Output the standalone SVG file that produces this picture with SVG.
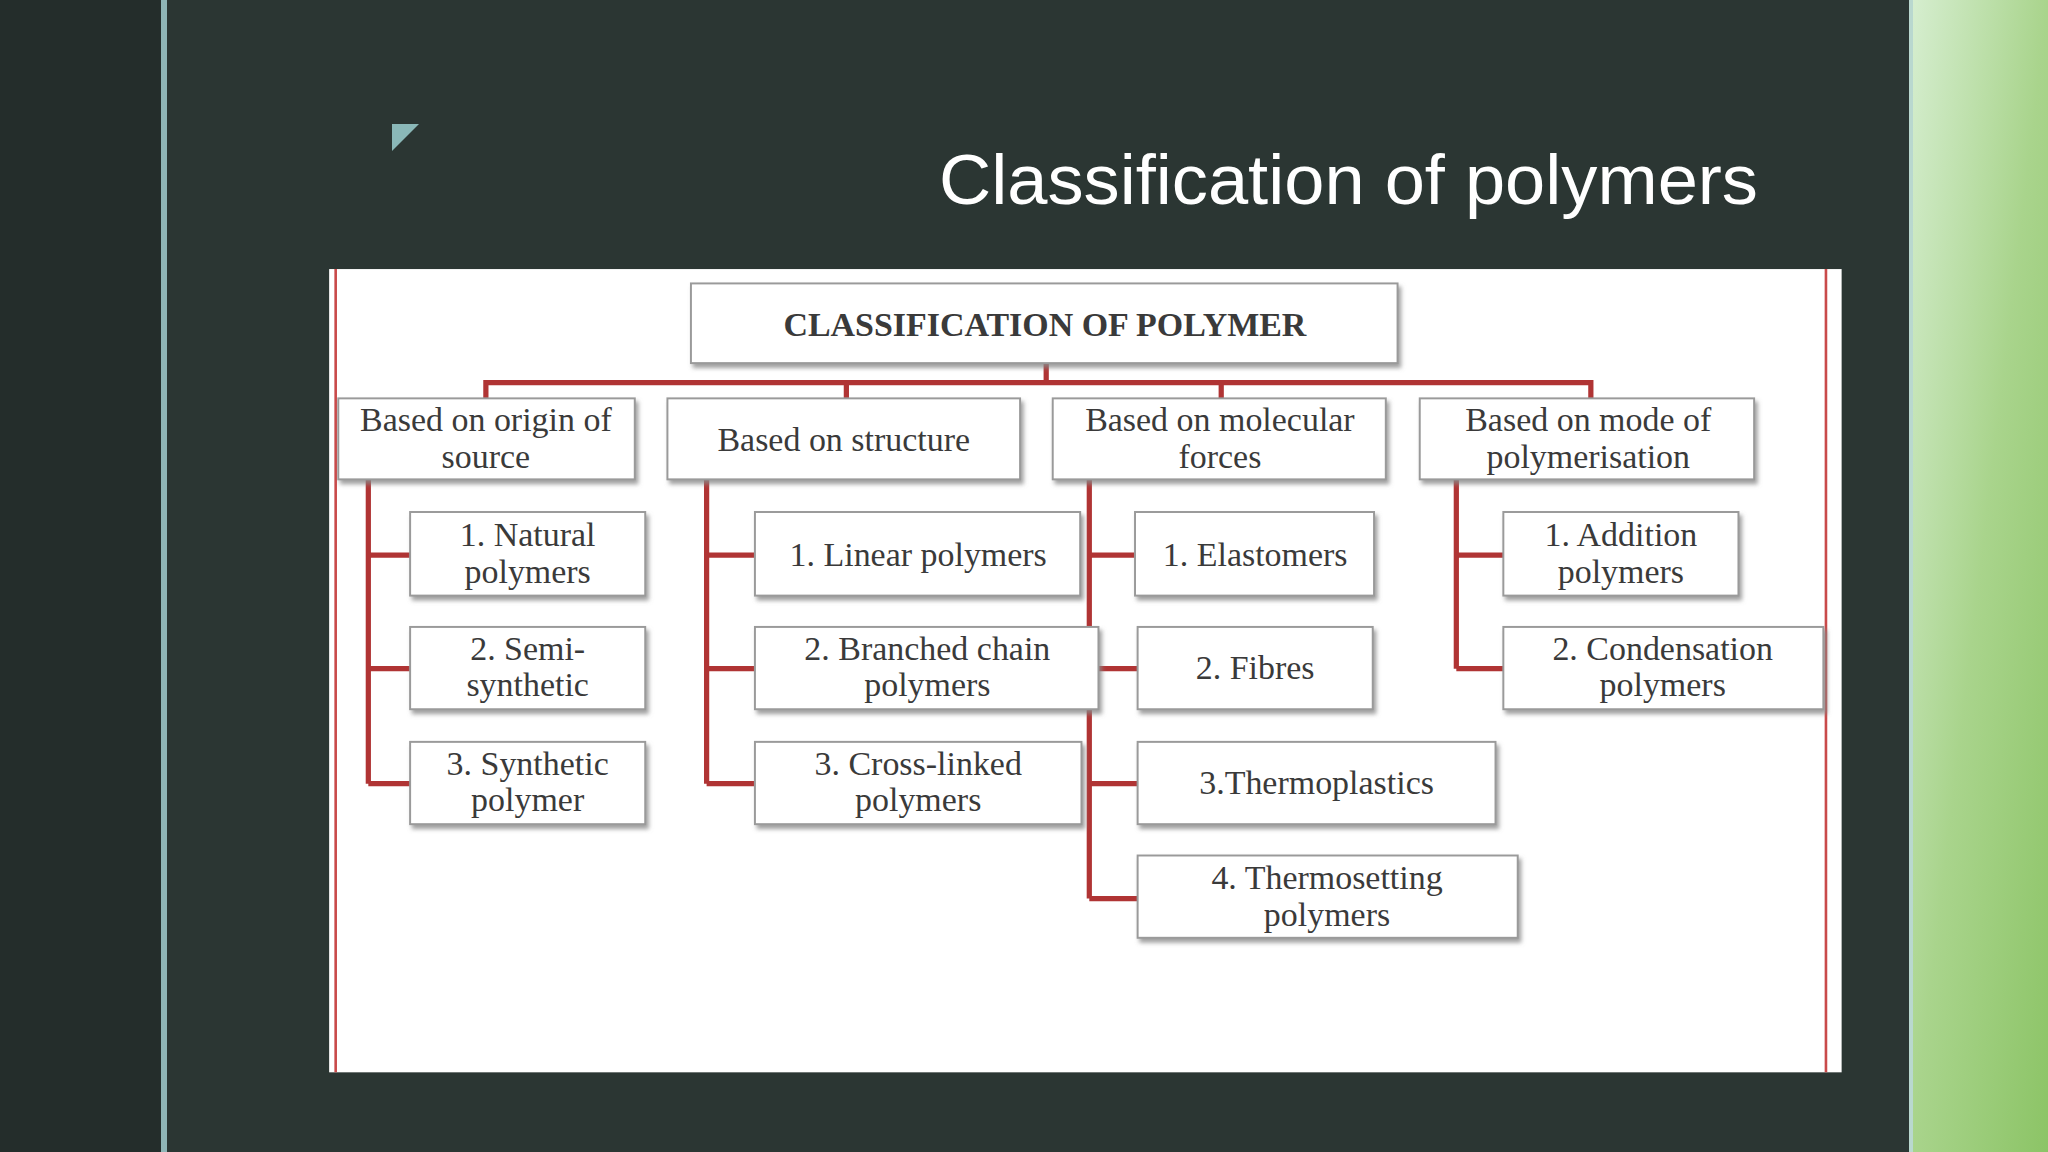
<svg xmlns="http://www.w3.org/2000/svg" width="2048" height="1152" viewBox="0 0 2048 1152">
<defs>
<linearGradient id="g" x1="0" y1="0" x2="1" y2="1"><stop offset="0" stop-color="#d6eed0"/><stop offset="0.5" stop-color="#a9d48c"/><stop offset="1" stop-color="#8cc466"/></linearGradient>
<filter id="sh" x="-5%" y="-5%" width="115%" height="125%"><feDropShadow dx="2" dy="3" stdDeviation="1.5" flood-color="#888" flood-opacity="0.8"/></filter>
</defs>
<style>
.b{fill:#fff;stroke:#9a9a9a;stroke-width:1.5;filter:url(#sh)}
.t{font-family:"Liberation Serif",serif;font-size:26px;fill:#3a3a3a;text-anchor:middle}
.c{stroke:#b03434;stroke-width:4;fill:none}
</style>
<rect width="2048" height="1152" fill="#2b3633"/>
<rect width="163" height="1152" fill="#242d2b"/>
<rect x="161" y="0" width="6" height="1152" fill="#8fb5b6"/>
<rect x="1911" y="0" width="137" height="1152" fill="url(#g)"/>
<rect x="1909" y="0" width="4" height="1152" fill="#b9d8cf"/>
<polygon points="392,124 419,124 392,151" fill="#8ab8b8"/>
<text x="939" y="204" font-family="Liberation Sans,sans-serif" font-size="70" fill="#ffffff" textLength="819" lengthAdjust="spacingAndGlyphs">Classification of polymers</text>
<g transform="scale(1.30612)">
<rect x="252" y="206" width="1158" height="615" fill="#ffffff"/>
<line x1="257" y1="206" x2="257" y2="821" stroke="#c94a4a" stroke-width="2"/>
<line x1="1398" y1="206" x2="1398" y2="821" stroke="#c94a4a" stroke-width="2"/>
<g id="connectors">
<path class="c" d="M801 278V293M372 305V293H1218V305M648 293V305M935 293V305"/>
<path class="c" d="M282 367V600M282 425H314M282 512H314M282 600H314"/>
<path class="c" d="M541 367V600M541 425H578M541 512H578M541 600H578"/>
<path class="c" d="M834 367V688M834 425H869M834 512H871M834 600H871M834 688H871"/>
<path class="c" d="M1115 367V512M1115 425H1151M1115 512H1151"/>
</g>
<g id="root"><rect class="b" x="529" y="217" width="541" height="61"/><text class="t" x="800" y="257" font-weight="bold" font-size="24">CLASSIFICATION OF POLYMER</text></g>
<g id="origin"><rect class="b" x="259" y="305" width="227" height="62"/><text class="t" x="372" y="330">Based on origin of</text><text class="t" x="372" y="358">source</text></g>
<g id="structure"><rect class="b" x="511" y="305" width="270" height="62"/><text class="t" x="646" y="345">Based on structure</text></g>
<g id="forces"><rect class="b" x="806" y="305" width="255" height="62"/><text class="t" x="934" y="330">Based on molecular</text><text class="t" x="934" y="358">forces</text></g>
<g id="mode"><rect class="b" x="1087" y="305" width="256" height="62"/><text class="t" x="1216" y="330">Based on mode of</text><text class="t" x="1216" y="358">polymerisation</text></g>
<g id="natural"><rect class="b" x="314" y="392" width="180" height="64"/><text class="t" x="404" y="418">1. Natural</text><text class="t" x="404" y="446">polymers</text></g>
<g id="semi"><rect class="b" x="314" y="480" width="180" height="63"/><text class="t" x="404" y="505">2. Semi-</text><text class="t" x="404" y="533">synthetic</text></g>
<g id="synthetic"><rect class="b" x="314" y="568" width="180" height="63"/><text class="t" x="404" y="593">3. Synthetic</text><text class="t" x="404" y="621">polymer</text></g>
<g id="linear"><rect class="b" x="578" y="392" width="249" height="64"/><text class="t" x="703" y="433">1. Linear polymers</text></g>
<g id="branched"><rect class="b" x="578" y="480" width="263" height="63"/><text class="t" x="710" y="505">2. Branched chain</text><text class="t" x="710" y="533">polymers</text></g>
<g id="crosslinked"><rect class="b" x="578" y="568" width="250" height="63"/><text class="t" x="703" y="593">3. Cross-linked</text><text class="t" x="703" y="621">polymers</text></g>
<g id="elastomers"><rect class="b" x="869" y="392" width="183" height="64"/><text class="t" x="961" y="433">1. Elastomers</text></g>
<g id="fibres"><rect class="b" x="871" y="480" width="180" height="63"/><text class="t" x="961" y="520">2. Fibres</text></g>
<g id="thermoplastics"><rect class="b" x="871" y="568" width="274" height="63"/><text class="t" x="1008" y="608">3.Thermoplastics</text></g>
<g id="thermosetting"><rect class="b" x="871" y="655" width="291" height="63"/><text class="t" x="1016" y="681">4. Thermosetting</text><text class="t" x="1016" y="709">polymers</text></g>
<g id="addition"><rect class="b" x="1151" y="392" width="180" height="64"/><text class="t" x="1241" y="418">1. Addition</text><text class="t" x="1241" y="446">polymers</text></g>
<g id="condensation"><rect class="b" x="1151" y="480" width="245" height="63"/><text class="t" x="1273" y="505">2. Condensation</text><text class="t" x="1273" y="533">polymers</text></g>
</g>
</svg>
